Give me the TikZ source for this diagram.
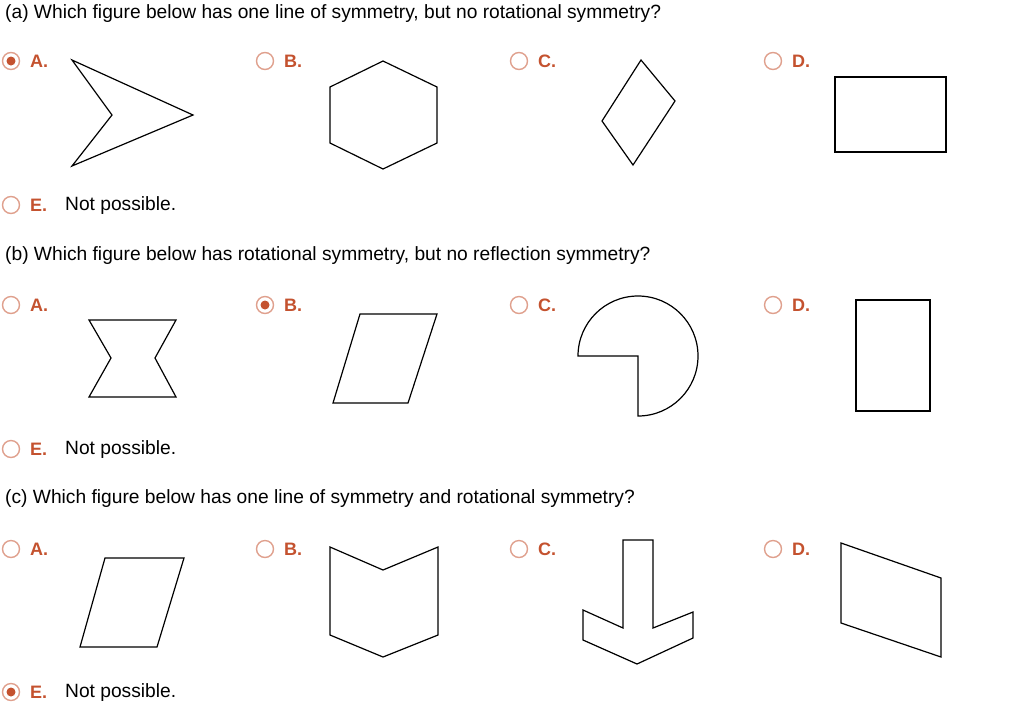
\documentclass[tikz,border=0pt]{standalone}
\usepackage{fontspec}
\setmainfont{Liberation Sans}
\definecolor{org}{HTML}{C4522F}
\begin{document}
\begin{tikzpicture}[x=1pt,y=-1pt,
  shp/.style={draw=black,line width=1.2pt,line join=miter},
  txt/.style={anchor=west,inner sep=0pt,font=\fontsize{19.2}{22}\selectfont},
  lab/.style={anchor=west,inner sep=0pt,text=org,font=\bfseries\fontsize{18}{21}\selectfont},
  rad/.style={draw=org!55,line width=1.4pt,circle,minimum size=17pt,inner sep=0pt}]
\useasboundingbox (0,0) rectangle (1024,721);
% questions
\node[txt] (qa) at (5,14) {(a) Which figure below has one line of symmetry, but no rotational symmetry?};
\node[txt] (qb) at (5,256) {(b) Which figure below has rotational symmetry, but no reflection symmetry?};
\node[txt] (qc) at (5,499) {(c) Which figure below has one line of symmetry and rotational symmetry?};
% radios
\foreach \y/\r in {61/a,305/b,549/c}{
  \foreach \x/\l in {11/A,265/B,519/C,773/D}{
    \node[rad] (r\r\l) at (\x,\y) {};
    \node[lab] (l\r\l) at (\x+19,\y) {\l.};
  }}
\foreach \y/\r in {205/a,449/b,692/c}{
  \node[rad] (r\r E) at (11,\y) {};
  \node[lab] (l\r E) at (30,\y) {E.};
  \node[txt] (t\r E) at (65,\y+1) {Not possible.};
}
\foreach \n in {raA,rbB,rcE}{\fill[org] (\n.center) circle (4.5pt);}
% (a)
\draw[shp] (72,60)--(193,115)--(72,166)--(112,115)--cycle;
\draw[shp] (330,87)--(383,61)--(437,87)--(437,143)--(383,169)--(330,143)--cycle;
\draw[shp] (641,60)--(675,101)--(633,165)--(602,121)--cycle;
\draw[shp] (835,77) rectangle (946,152);
% (b)
\draw[shp] (89,320)--(176,320)--(155,358)--(176,397)--(89,397)--(111,358)--cycle;
\draw[shp] (360,314)--(437,314)--(408,403)--(333,403)--cycle;
\draw[shp] (638,356)--(578,356) arc[start angle=180,end angle=450,radius=60]--cycle;
\draw[shp] (856,300) rectangle (930,411);
% (c)
\draw[shp] (105,558)--(184,558)--(157,647)--(80,647)--cycle;
\draw[shp] (330,547)--(383,570)--(438,547)--(438,635)--(383,657)--(330,635)--cycle;
\draw[shp] (623,540)--(653,540)--(653,628)--(693,612)--(693,638)--(637,664)--(583,640)--(583,610)--(623,628)--cycle;
\draw[shp] (841,543)--(941,578)--(941,657)--(841,623)--cycle;
\end{tikzpicture}
\end{document}
